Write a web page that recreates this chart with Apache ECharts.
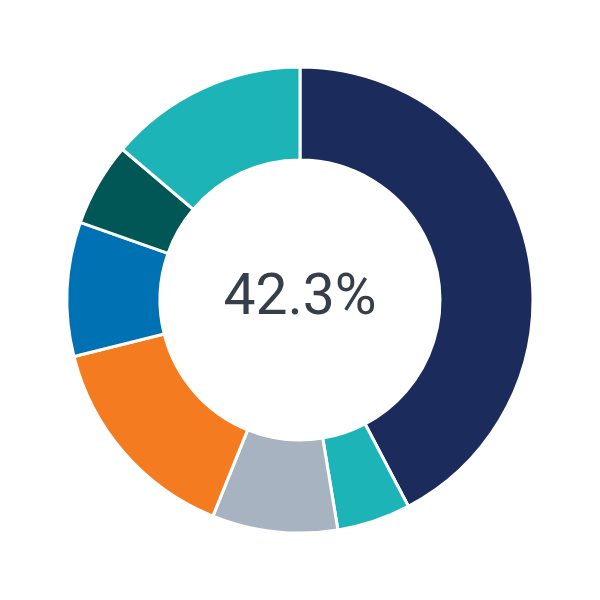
<!DOCTYPE html>
<html><head><meta charset="utf-8">
<script src="https://cdn.jsdelivr.net/npm/echarts@6/dist/echarts.min.js"></script>
<style>html,body{margin:0;padding:0;background:#fff}#c{width:600px;height:600px}</style>
</head><body><div id="c"></div>
<script>
const categories = ['A','B','C','D','E','F','G'];
const values = [42.3, 5.1, 8.7, 15.0, 9.3, 5.8, 13.8];
const colors = ['#1b2b5b','#1db4b8','#a8b3c1','#f47b20','#0071b3','#005756','#1db4b8'];
const centerText = '42.3%';
const chart = echarts.init(document.getElementById('c'));
chart.setOption({
  animation:false,
  title:{text:centerText,left:'center',top:'middle',textStyle:{fontFamily:'Roboto',fontSize:57,fontWeight:'normal',color:'#363e4a'}},
  series:[{
    type:'pie',
    center:[300,300],
    radius:[140,233],
    startAngle:90,
    clockwise:true,
    label:{show:false},
    labelLine:{show:false},
    itemStyle:{borderColor:'#fff',borderWidth:3},
    data:categories.map((c,i)=>({name:c,value:values[i],itemStyle:{color:colors[i]}}))
  }]
});
</script></body></html>
